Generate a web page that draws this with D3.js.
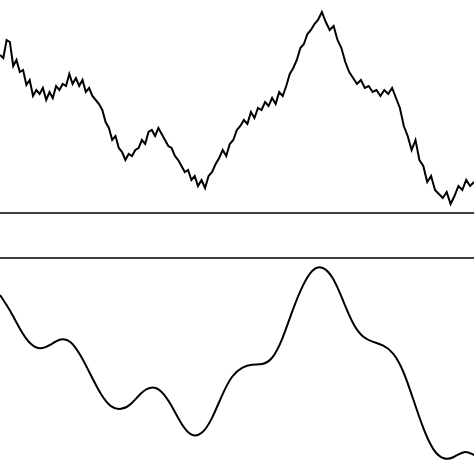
<!DOCTYPE html>
<html><head><meta charset="utf-8">
<script src="https://d3js.org/d3.v7.min.js"></script>
<style>body{margin:0;background:#fff}</style>
</head><body>
<svg id="c" width="474" height="474"></svg>
<script>
// noisy series (top panel)
var noisy = [55,58,40,42,66,60,72,70,85,80,96,90,94,88,100,92,98,86,90,84,
  86,74,84,78,86,80,92,88,96,100,104,110,122,128,140,136,148,152,160,154,
  156,150,148,140,144,132,130,136,128,134,140,146,148,156,160,166,172,170,180,176,
  186,180,188,176,172,164,158,150,156,144,140,130,126,120,124,112,118,108,110,102,
  106,98,104,92,96,86,74,68,60,48,44,34,30,24,20,12,22,30,26,40,
  48,62,72,78,84,80,88,86,92,90,96,90,94,88,98,108,126,136,150,140,
  160,166,182,176,190,194,198,192,204,196,186,190,180,186,182];
// smooth series (bottom panel)
var smooth = [295,310,330,345,350,345,338,340,355,375,395,408,410,405,392,386,390,405,425,437,
  435,420,395,375,367,364,365,360,340,310,285,268,266,276,300,325,338,342,345,352,
  370,400,430,452,460,458,450,455];

var W = 474, svg = d3.select("#c");
var top1 = 0, bot1 = 213, top2 = 258, bot2 = 474;

var x1 = d3.scaleLinear().domain([0, 60, 94, noisy.length - 1]).range([0, 198, 318, W]);
var x2 = d3.scaleLinear().domain([0, smooth.length - 1]).range([0, W]);
var y = d3.scaleLinear().domain([0, 474]).range([0, 474]);

svg.append("rect").attr("x", -2).attr("y", top1 - 2).attr("width", W + 4).attr("height", bot1 - top1 + 2)
  .attr("fill", "none").attr("stroke", "#000").attr("stroke-width", 1.5);
svg.append("rect").attr("x", -2).attr("y", top2).attr("width", W + 4).attr("height", bot2 - top2 + 4)
  .attr("fill", "none").attr("stroke", "#000").attr("stroke-width", 1.5);

svg.append("path").datum(noisy)
  .attr("d", d3.line().x(function (d, i) { return x1(i); }).y(function (d) { return y(d); }))
  .attr("fill", "none").attr("stroke", "#000").attr("stroke-width", 2);

svg.append("path").datum(smooth)
  .attr("d", d3.line().curve(d3.curveBasis).x(function (d, i) { return x2(i); }).y(function (d) { return y(d); }))
  .attr("fill", "none").attr("stroke", "#000").attr("stroke-width", 2);
</script>
</body></html>
